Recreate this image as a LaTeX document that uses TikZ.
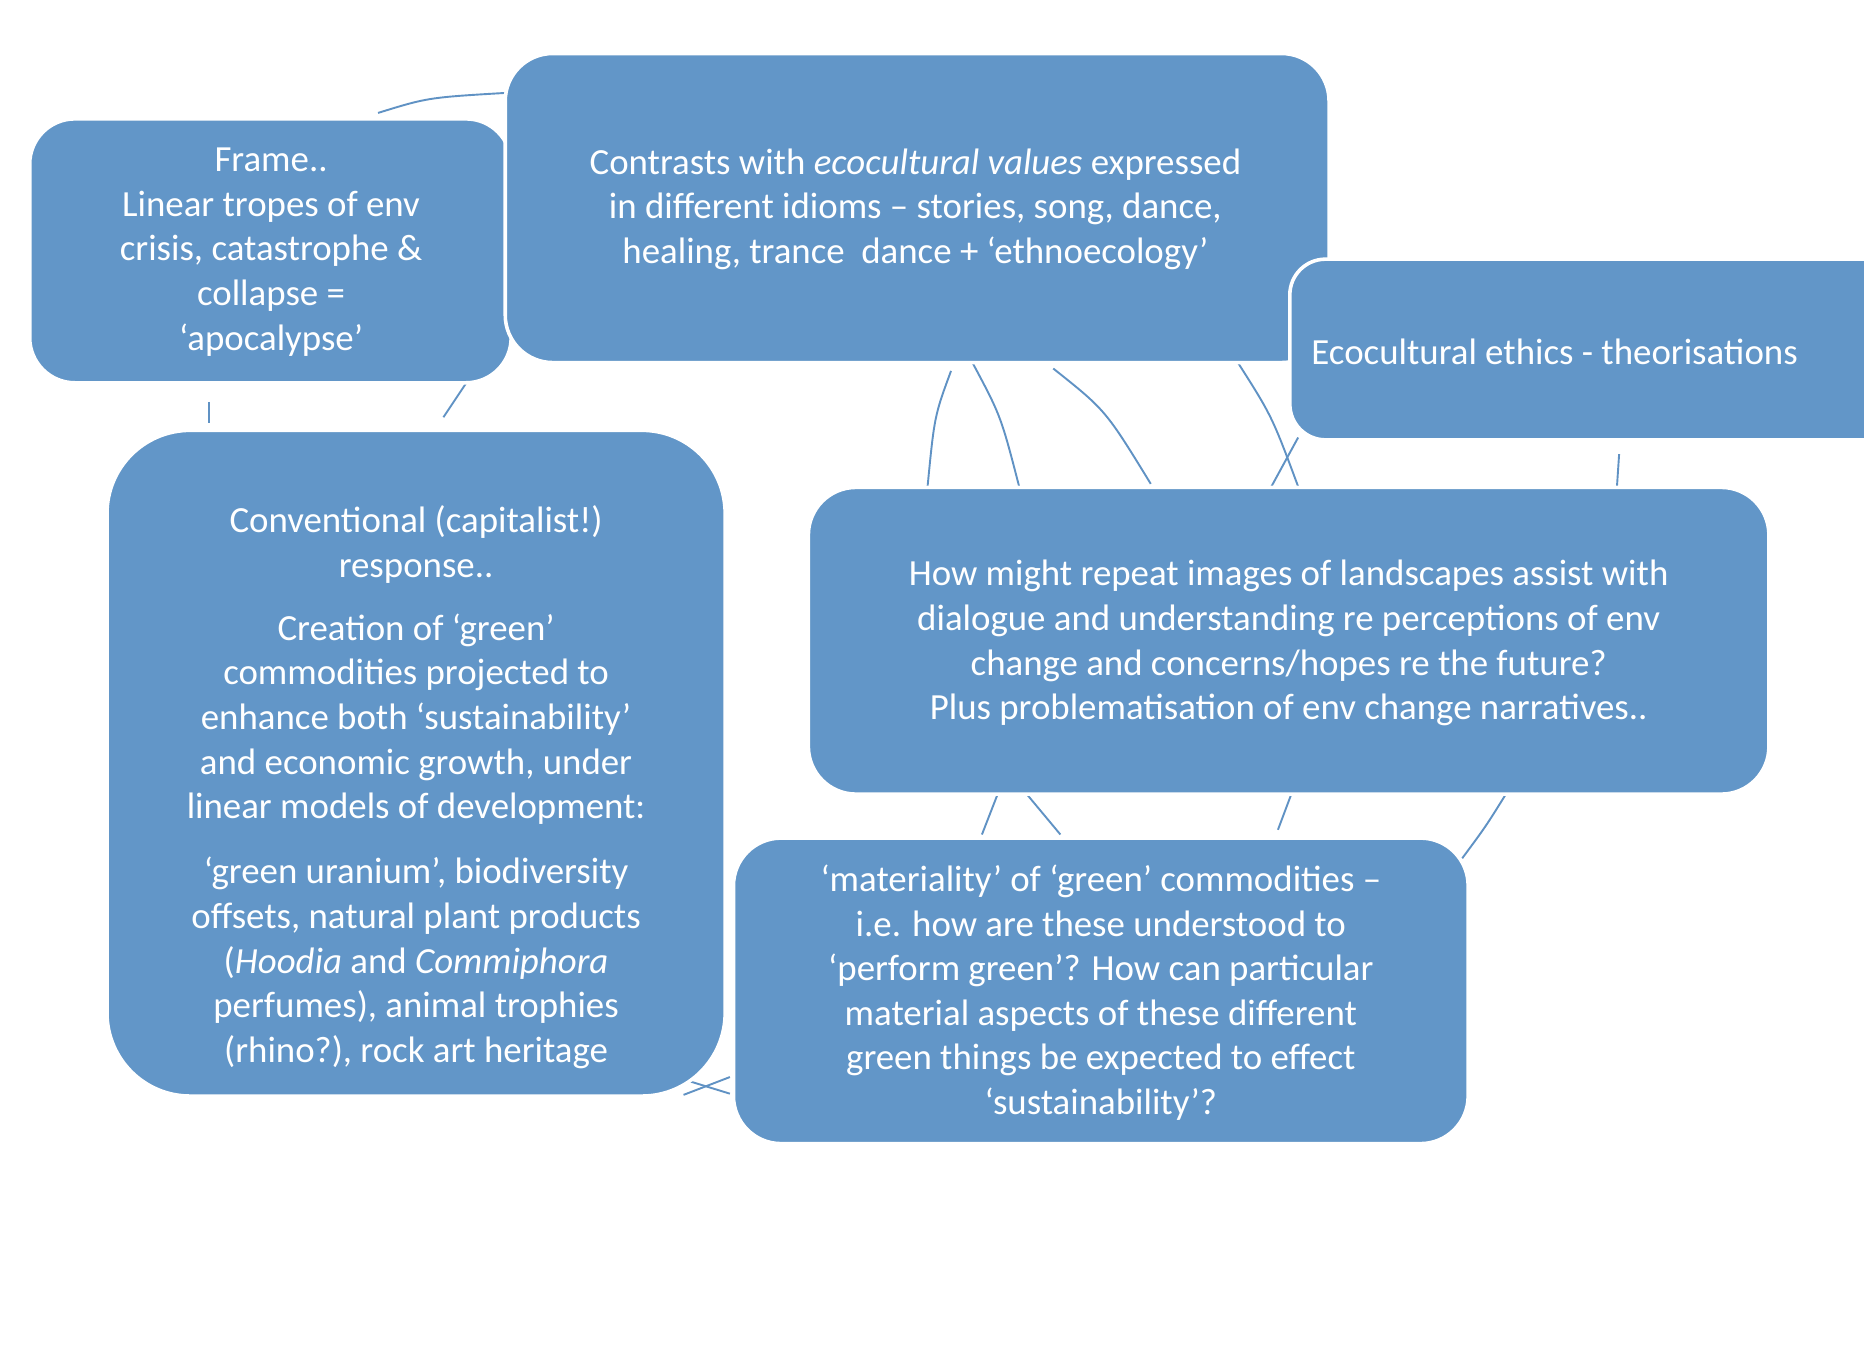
\documentclass[tikz,border=0pt]{standalone}
\usepackage{fontspec}
\setmainfont{Carlito}
\definecolor{bx}{RGB}{98,150,200}
\definecolor{ln}{RGB}{96,146,196}
\begin{document}
\begin{tikzpicture}[x=1pt,y=-1pt,
 box/.style={fill=bx,draw=white,line width=3pt,rounded corners=#1},
 txt/.style={text=white,align=center,font=\fontsize{31}{37.5}\selectfont,inner sep=0},
 con/.style={draw=ln,line width=1.6pt}]
\useasboundingbox (0,0) rectangle (1568,1140);
\fill[white] (0,0) rectangle (1568,1140);
% connectors
\coordinate (a1) at (318,95); \coordinate (a2) at (428,78);
\draw[con] (a1) .. controls (360,82) .. (a2);
\coordinate (b1) at (176,338); \coordinate (b2) at (176,356);
\draw[con] (b1) -- (b2);
\coordinate (c1) at (373,351); \coordinate (c2) at (395,318);
\draw[con] (c1) -- (c2);
\coordinate (c3) at (428,270); \coordinate (c4) at (436,262);
\draw[con] (c3) -- (c4);
\coordinate (d1) at (800,312); \coordinate (d2) at (780,412);
\draw[con] (d1) .. controls (786,350) .. (d2);
\coordinate (e1) at (818,305); \coordinate (e2) at (858,412);
\draw[con] (e1) .. controls (842,350) .. (e2);
\coordinate (f1) at (886,310); \coordinate (f2) at (968,407);
\draw[con] (f1) .. controls (930,345) .. (f2);
\coordinate (g1) at (1040,303); \coordinate (g2) at (1093,412);
\draw[con] (g1) .. controls (1070,350) .. (g2);
\coordinate (h1) at (1092,368); \coordinate (h2) at (1068,412);
\draw[con] (h1) -- (h2);
\coordinate (i1) at (1362,382); \coordinate (i2) at (1360,412);
\draw[con] (i1) -- (i2);
\coordinate (j1) at (840,666); \coordinate (j2) at (826,702);
\draw[con] (j1) -- (j2);
\coordinate (k1) at (862,666); \coordinate (k2) at (892,702);
\draw[con] (k1) -- (k2);
\coordinate (l1) at (1087,666); \coordinate (l2) at (1075,698);
\draw[con] (l1) -- (l2);
\coordinate (m1) at (1268,666); \coordinate (m2) at (1230,722);
\draw[con] (m1) .. controls (1250,695) .. (m2);
\coordinate (n1) at (575,908); \coordinate (n2) at (614,920);
\coordinate (n3) at (575,921); \coordinate (n4) at (614,906);
\draw[con] (n1) -- (n2); \draw[con] (n3) -- (n4);
% boxes
\draw[box=38pt] (25,100) rectangle (430,322);
\draw[box=40pt] (425,45) rectangle (1118,305);
\draw[box=30pt] (1085,218) rectangle (1600,370);
\draw[box=70pt] (90,362) rectangle (610,922);
\draw[box=40pt] (680,410) rectangle (1488,668);
\draw[box=40pt] (617,705) rectangle (1235,962);
% texts
\node[txt] (frame) at (228,212) {Frame..\\Linear tropes of env\\crisis, catastrophe \&\\collapse =\\‘apocalypse’};
\node[txt] (contr) at (770,176) {Contrasts with \textit{ecocultural values} expressed\\in different idioms – stories, song, dance,\\healing, trance\ \ dance + ‘ethnoecology’};
\node[txt,anchor=west] (eco) at (1103,296) {Ecocultural ethics - theorisations};
\node[txt] (conv1) at (350,458) {Conventional (capitalist!)\\response..};
\node[txt] (conv2) at (350,605) {Creation of ‘green’\\commodities projected to\\enhance both ‘sustainability’\\and economic growth, under\\linear models of development:};
\node[txt] (conv3) at (350,810) {‘green uranium’, biodiversity\\offsets, natural plant products\\(\textit{Hoodia} and \textit{Commiphora}\\perfumes), animal trophies\\(rhino?), rock art heritage};
\node[txt] (how) at (1084,541) {How might repeat images of landscapes assist with\\dialogue and understanding re perceptions of env\\change and concerns/hopes re the future?\\Plus problematisation of env change narratives..};
\node[txt] (mat) at (926,835) {‘materiality’ of ‘green’ commodities –\\i.e. how are these understood to\\‘perform green’? How can particular\\material aspects of these different\\green things be expected to effect\\‘sustainability’?};
\end{tikzpicture}
\end{document}
